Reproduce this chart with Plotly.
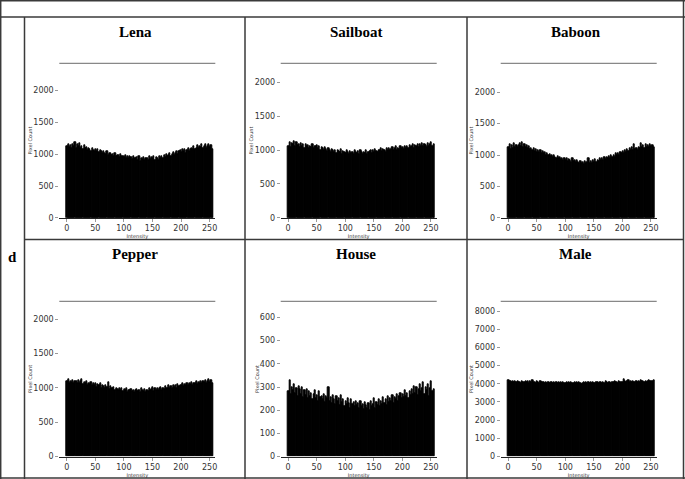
import plotly.graph_objects as go

W, H = 685, 479

panel_names = ["Lena", "Sailboat", "Baboon", "Pepper", "House", "Male"]
row_label = "d"
x_title = "Intensity"
y_title = "Pixel Count"
x_ticks = [0, 50, 100, 150, 200, 250]

# histogram bins (width 2 intensity levels each)
bin_starts = list(range(0, 256, 2))

lena = [1130, 1150, 1110, 1140, 1100, 1160, 1120, 1190, 1090, 1150,
        1130, 1170, 1100, 1120, 1080, 1140, 1090, 1110, 1060, 1100,
        1070, 1050, 1090, 1060, 1040, 1080, 1050, 1070, 1030, 1060,
        1040, 1010, 1050, 1020, 1000, 1040, 990, 1020, 1010, 980,
        1000, 970, 1010, 960, 990, 980, 950, 1000, 960, 970,
        950, 980, 940, 970, 930, 960, 950, 920, 970, 940,
        930, 950, 910, 960, 890, 940, 920, 950, 900, 930,
        940, 910, 960, 920, 950, 930, 960, 900, 950, 940,
        910, 970, 940, 960, 930, 980, 950, 1000, 960, 990,
        1010, 970, 1000, 1030, 990, 1020, 1050, 1000, 1040, 1060,
        1030, 1070, 1040, 1080, 1020, 1060, 1090, 1050, 1080, 1100,
        1070, 1120, 1080, 1100, 1140, 1090, 1130, 1110, 1160, 1100,
        1120, 1150, 1090, 1130, 1160, 1110, 1140, 1080]

sailboat = [1060, 1120, 1040, 1100, 1080, 1130, 1050, 1110, 1070, 1090,
            1040, 1100, 1060, 1080, 1030, 1090, 1050, 1070, 1020, 1060,
            1040, 1080, 1030, 1060, 1050, 1070, 1020, 1050, 1000, 1040,
            1030, 990, 1040, 1010, 980, 1020, 1000, 960, 1010, 990,
            970, 1000, 950, 990, 980, 960, 1010, 940, 980, 970,
            950, 990, 960, 940, 980, 950, 970, 930, 990, 960,
            950, 980, 940, 1000, 960, 930, 970, 950, 990, 940,
            960, 980, 1000, 950, 990, 970, 1010, 980, 960, 1000,
            990, 1020, 980, 1010, 1000, 970, 1020, 990, 1030, 1000,
            1010, 1040, 990, 1020, 1050, 1000, 1030, 1010, 1060, 1020,
            1040, 1010, 1060, 1030, 1050, 1020, 1070, 1040, 1060, 1080,
            1030, 1070, 1050, 1090, 1040, 1080, 1060, 1100, 1050, 1090,
            1070, 1040, 1100, 1060, 1080, 1110, 1050, 1090]

baboon = [1120, 1170, 1090, 1150, 1110, 1180, 1130, 1160, 1120, 1150,
          1190, 1140, 1210, 1130, 1170, 1120, 1160, 1100, 1140, 1090,
          1110, 1080, 1100, 1060, 1090, 1040, 1080, 1050, 1070, 1030,
          1060, 1020, 1050, 1000, 1030, 990, 1010, 980, 1000, 960,
          990, 970, 950, 980, 940, 960, 930, 950, 920, 940,
          910, 940, 900, 930, 920, 890, 940, 900, 920, 880,
          910, 890, 870, 900, 860, 880, 850, 900, 870, 880,
          940, 870, 900, 860, 910, 880, 930, 890, 920, 900,
          940, 910, 950, 920, 960, 930, 970, 940, 980, 950,
          990, 960, 1000, 970, 1020, 990, 1030, 1000, 1050, 1020,
          1060, 1030, 1080, 1050, 1090, 1060, 1100, 1070, 1120, 1080,
          1170, 1090, 1110, 1080, 1130, 1100, 1190, 1120, 1150, 1110,
          1170, 1130, 1160, 1120, 1170, 1140, 1160, 1120]

pepper = [1090, 1120, 1070, 1100, 1080, 1110, 1060, 1090, 1100, 1070,
          1110, 1060, 1090, 1120, 1050, 1080, 1060, 1090, 1040, 1070,
          1050, 1080, 1030, 1060, 1040, 1070, 1010, 1050, 1030, 1060,
          1000, 1040, 1020, 990, 1030, 1010, 1080, 980, 1020, 1000,
          990, 1010, 970, 1000, 980, 960, 1000, 970, 990, 950,
          980, 960, 990, 940, 970, 960, 980, 950, 970, 940,
          960, 980, 950, 970, 940, 990, 960, 950, 980, 940,
          970, 950, 990, 960, 980, 1010, 950, 990, 970, 1000,
          960, 990, 1010, 970, 1000, 980, 1020, 990, 1000, 1030,
          990, 1020, 1000, 1040, 1010, 1030, 1000, 1050, 1020, 1040,
          1030, 1060, 1020, 1050, 1040, 1070, 1030, 1060, 1050, 1080,
          1040, 1070, 1060, 1090, 1050, 1080, 1070, 1100, 1060, 1090,
          1080, 1110, 1070, 1100, 1120, 1080, 1110, 1060]

house = [280, 330, 270, 300, 285, 310, 275, 295, 260, 305,
         290, 270, 300, 255, 285, 265, 290, 250, 280, 260,
         275, 245, 270, 285, 250, 265, 240, 280, 255, 260,
         245, 270, 235, 260, 250, 300, 240, 255, 230, 265,
         245, 225, 260, 240, 250, 220, 265, 235, 245, 215,
         240, 225, 250, 230, 210, 245, 225, 235, 215, 240,
         220, 230, 210, 240, 215, 225, 205, 235, 220, 210,
         230, 200, 240, 215, 225, 250, 210, 235, 220, 245,
         215, 240, 225, 255, 230, 245, 220, 260, 235, 250,
         240, 265, 230, 255, 245, 270, 240, 260, 275, 250,
         270, 255, 285, 260, 275, 250, 280, 265, 290, 270,
         305, 275, 300, 265, 290, 310, 280, 295, 320, 270,
         300, 285, 310, 260, 295, 325, 280, 290]

male = [4180, 4120, 4150, 4090, 4130, 4070, 4110, 4080, 4140, 4060,
        4100, 4050, 4120, 4090, 4080, 4130, 4070, 4160, 4040, 4110,
        4080, 4190, 4060, 4100, 4050, 4120, 4090, 4040, 4110, 4070,
        4060, 4100, 4030, 4080, 4050, 4090, 4020, 4070, 4100, 4040,
        4060, 4010, 4080, 4050, 4090, 4030, 4070, 4040, 4060, 4020,
        4050, 4080, 4010, 4060, 4030, 4090, 4040, 4000, 4070, 4030,
        4060, 4020, 4080, 4040, 3990, 4050, 4070, 4010, 4060, 4030,
        4080, 4040, 4060, 4020, 4090, 4050, 4030, 4070, 4100, 4040,
        4060, 4090, 4030, 4080, 4050, 4110, 4060, 4040, 4090, 4070,
        4050, 4100, 4070, 4130, 4060, 4090, 4050, 4110, 4080, 4060,
        4100, 4240, 4120, 4070, 4110, 4180, 4090, 4130, 4080, 4150,
        4100, 4060, 4140, 4090, 4120, 4080, 4170, 4110, 4130, 4100,
        4160, 4090, 4140, 4200, 4110, 4150, 4130, 4170]

series = [lena, sailboat, baboon, pepper, house, male]
y_tick_sets = [
    [0, 500, 1000, 1500, 2000],
    [0, 500, 1000, 1500, 2000],
    [0, 500, 1000, 1500, 2000],
    [0, 500, 1000, 1500, 2000],
    [0, 100, 200, 300, 400, 500, 600],
    [0, 1000, 2000, 3000, 4000, 5000, 6000, 7000, 8000],
]
y_tops = [2430, 2280, 2460, 2260, 670, 8535]


def px(x):
    return x / W


def py(y):
    return 1 - y / H


col_px = [(59.3, 215.3), (280.7, 436.7), (500.7, 656.7)]
row_px = [(63.3, 217.8), (301.3, 456.5)]
cell_centers = [135, 356, 575.5]
title_y = [32, 254]

fig = go.Figure()
layout = dict(
    width=W, height=H, margin=dict(l=0, r=0, t=0, b=0, autoexpand=False),
    paper_bgcolor="white", plot_bgcolor="white",
    showlegend=False, bargap=0,
)
shapes = []
annotations = []

tick_font = dict(family="DejaVu Sans", size=8, color="#333")
small_font = dict(family="DejaVu Sans", size=5, color="#333")

for k, (name, vals) in enumerate(zip(panel_names, series)):
    r, c = divmod(k, 3)
    idx = "" if k == 0 else str(k + 1)
    xa, ya = "x" + idx, "y" + idx
    fig.add_trace(go.Bar(
        x=[b + 1 for b in bin_starts], y=vals, width=2,
        marker=dict(color="black", line=dict(color="black", width=1)),
        xaxis=xa, yaxis=ya, hoverinfo="skip",
    ))
    x0, x1 = col_px[c]
    y0, y1 = row_px[r]
    layout["xaxis" + idx] = dict(
        domain=[px(x0), px(x1)], anchor=ya, range=[-13, 260], automargin=False,
        tickvals=x_ticks, ticks="outside", ticklen=3, tickcolor="#999",
        tickfont=tick_font, showline=True, linecolor="#222", linewidth=1,
        showgrid=False, zeroline=False,
        title=dict(text=x_title, font=small_font, standoff=1),
    )
    layout["yaxis" + idx] = dict(
        domain=[py(y1), py(y0)], anchor=xa, range=[0, y_tops[k]], automargin=False,
        tickvals=y_tick_sets[k], ticks="outside", ticklen=3, tickcolor="#999",
        tickfont=tick_font, showline=False, showgrid=False, zeroline=False,
        title=dict(text=y_title, font=small_font, standoff=0),
    )
    # top spine (gray)
    shapes.append(dict(type="line", xref=xa + " domain", yref=ya + " domain",
                       x0=0, x1=1, y0=1, y1=1,
                       line=dict(color="#888", width=1.2)))
    annotations.append(dict(
        text="<b>%s</b>" % name, x=px(cell_centers[c]), y=py(title_y[r]),
        xref="paper", yref="paper", showarrow=False, xanchor="center", yanchor="middle",
        font=dict(family="Liberation Serif", size=15, color="black"),
    ))

annotations.append(dict(
    text="<b>%s</b>" % row_label, x=px(12.5), y=py(257), xref="paper", yref="paper",
    showarrow=False, xanchor="center", yanchor="middle",
    font=dict(family="Liberation Serif", size=15, color="black"),
))

grid_color = "#3a3a3a"
gw = 1.5


def hline(y, xa_, xb_):
    shapes.append(dict(type="line", xref="paper", yref="paper",
                       x0=px(xa_), x1=px(xb_), y0=py(y), y1=py(y),
                       line=dict(color=grid_color, width=gw)))


def vline(x, ya_, yb_):
    shapes.append(dict(type="line", xref="paper", yref="paper",
                       x0=px(x), x1=px(x), y0=py(ya_), y1=py(yb_),
                       line=dict(color=grid_color, width=gw)))


hline(0.7, 0, 685)
hline(17, 0, 685)
hline(239.5, 24.5, 684)
hline(478, 0, 685)
vline(0.7, 0, 479)
vline(683.5, 0, 479)
vline(24.5, 17, 479)
vline(245, 17, 479)
vline(467, 17, 479)

layout["shapes"] = shapes
layout["annotations"] = annotations
fig.update_layout(**layout)
fig.write_html("out.html")
